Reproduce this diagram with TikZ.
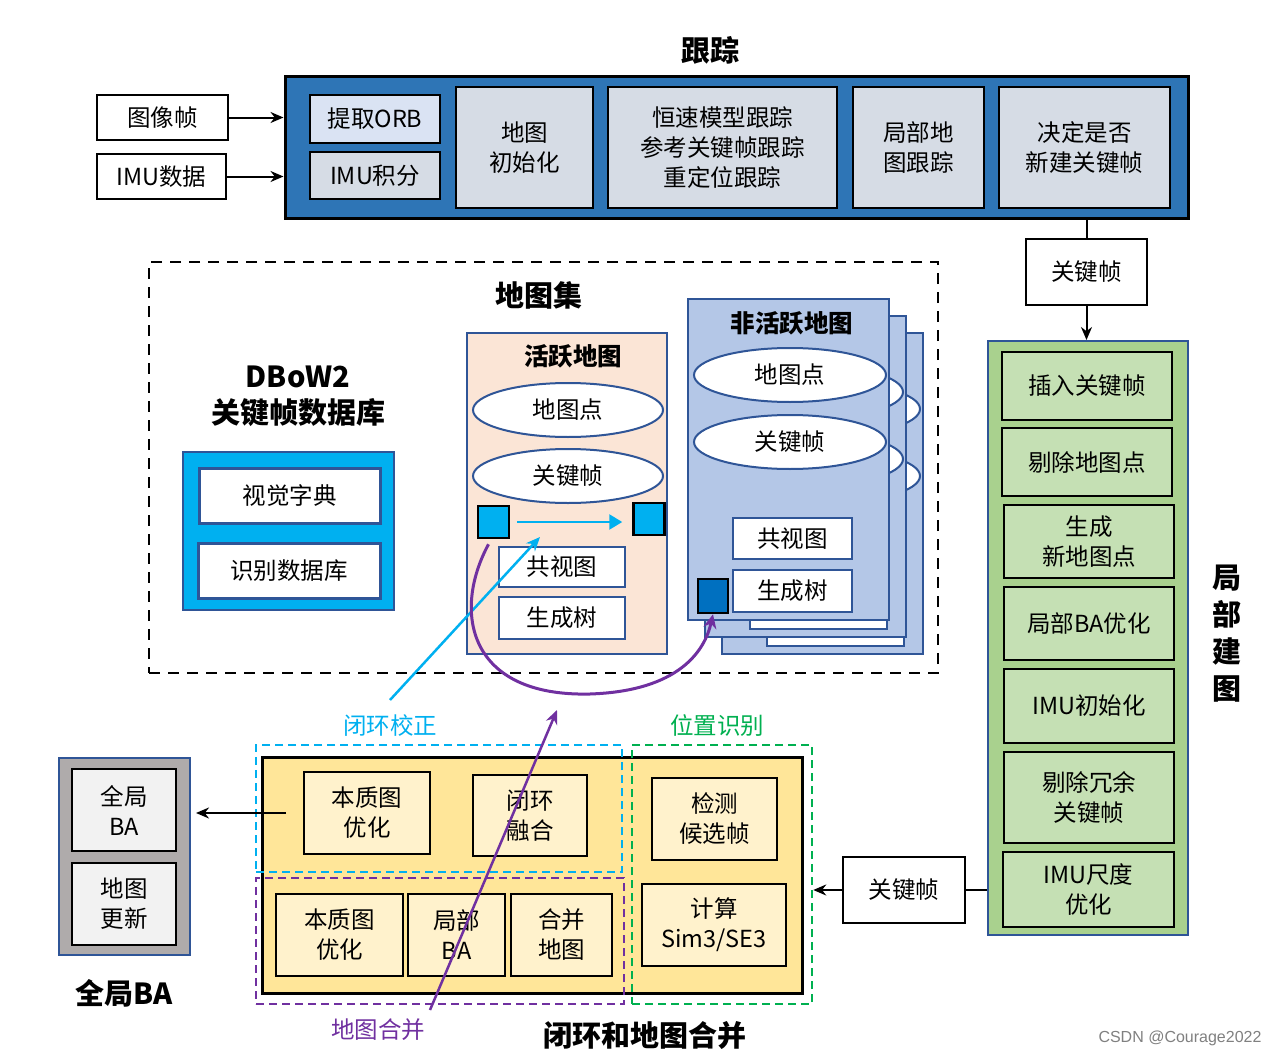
\documentclass[tikz,border=0pt]{standalone}
\usepackage{fontspec}
\setmainfont{Noto Sans CJK SC}
\newfontfamily\wmfont{Liberation Sans}
\usetikzlibrary{arrows.meta,calc,shapes.geometric}
\definecolor{trackblue}{HTML}{2E75B6}
\definecolor{graybox}{HTML}{D6DCE5}
\definecolor{lightbox}{HTML}{DAE3F3}
\definecolor{greenout}{HTML}{A9D18E}
\definecolor{greenin}{HTML}{C5E0B4}
\definecolor{peach}{HTML}{FBE5D6}
\definecolor{inact}{HTML}{B4C7E7}
\definecolor{dkborder}{HTML}{2F5597}
\definecolor{cyanc}{HTML}{00B0F0}
\definecolor{sqdark}{HTML}{0070C0}
\definecolor{yel}{HTML}{FFE699}
\definecolor{yellt}{HTML}{FFF2CC}
\definecolor{grayout}{HTML}{AFABAB}
\definecolor{grayin}{HTML}{F2F2F2}
\definecolor{purp}{HTML}{7030A0}
\definecolor{greenc}{HTML}{00B050}
\tikzset{
  base/.style={inner sep=0pt, align=center, font=\fontsize{23.5}{30}\selectfont},
  blk/.style={base, draw=black, line width=2.5pt},
  bluebrd/.style={base, draw=dkborder, line width=2pt},
  title/.style={inner sep=0pt, align=center, font=\bfseries\fontsize{29}{36}\selectfont},
  subtitle/.style={inner sep=0pt, align=center, font=\bfseries\fontsize{24.5}{30}\selectfont},
  ell/.style={base, ellipse, draw=dkborder, line width=2pt, fill=white},
  sq/.style={draw=black, line width=2.5pt, inner sep=0pt, minimum width=31, minimum height=32},
  arr/.style={line width=2pt, -{Stealth[length=13pt,width=11pt]}},
  dsh/.style={line width=2.5pt, dash pattern=on 8pt off 5pt},
}
\begin{document}
\begin{tikzpicture}[x=1pt,y=-1pt]
\useasboundingbox (0,0) rectangle (1278,1057);
\fill[white] (0,0) rectangle (1278,1057);

% ---------------- Tracking ----------------
\node[title] (ttrack) at (710,50) {跟踪};
\node[draw=black, line width=3pt, fill=trackblue, inner sep=0pt, minimum width=903, minimum height=141] (track) at (736.5,147.5) {};
\node[blk, fill=white, minimum width=131, minimum height=45] (img) at (162.5,117.5) {图像帧};
\node[blk, fill=white, minimum width=129, minimum height=45] (imu) at (161.5,176.5) {IMU数据};
\node[blk, fill=lightbox, minimum width=130, minimum height=48] (orb) at (375,119) {提取ORB};
\node[blk, fill=graybox, minimum width=130, minimum height=47] (imuint) at (375,175.5) {IMU积分};
\node[blk, fill=graybox, minimum width=137, minimum height=121] (mapinit) at (524.5,147.5) {地图\\初始化};
\node[blk, fill=graybox, minimum width=229, minimum height=121] (cvm) at (722.5,147.5) {恒速模型跟踪\\参考关键帧跟踪\\重定位跟踪};
\node[blk, fill=graybox, minimum width=131, minimum height=121] (lmt) at (918.5,147.5) {局部地\\图跟踪};
\node[blk, fill=graybox, minimum width=171, minimum height=121] (newkf) at (1084.5,147.5) {决定是否\\新建关键帧};
\draw[arr] (img.east) -- (img.east -| track.west);
\draw[arr] (imu.east) -- (imu.east -| track.west);

% ---------------- keyframe to local mapping ----------------
\node[blk, fill=white, minimum width=121, minimum height=66] (kf1) at (1086.5,272) {关键帧};
\node[draw=dkborder, line width=2pt, fill=greenout, inner sep=0pt, minimum width=200, minimum height=594] (lm) at (1088,638) {};
\draw[line width=2pt] (kf1.north |- track.south) -- (kf1.north);
\draw[arr] (kf1.south) -- (kf1.south |- lm.north);
\node[blk, fill=greenin, minimum width=170, minimum height=68] (lm1) at (1087,386) {插入关键帧};
\node[blk, fill=greenin, minimum width=170, minimum height=68] (lm2) at (1087,462) {剔除地图点};
\node[blk, fill=greenin, minimum width=170, minimum height=73] (lm3) at (1089,541.5) {生成\\新地图点};
\node[blk, fill=greenin, minimum width=170, minimum height=73] (lm4) at (1089,623.5) {局部BA优化};
\node[blk, fill=greenin, minimum width=170, minimum height=74] (lm5) at (1089,706) {IMU初始化};
\node[blk, fill=greenin, minimum width=170, minimum height=91] (lm6) at (1089,797.5) {剔除冗余\\关键帧};
\node[blk, fill=greenin, minimum width=171, minimum height=75] (lm7) at (1088.5,889.5) {IMU尺度\\优化};
\node[inner sep=0pt, align=center, font=\bfseries\fontsize{29}{37}\selectfont] (tlm) at (1227,634) {局\\部\\建\\图};

% ---------------- Atlas ----------------
\node[draw=black, line width=2.5pt, dash pattern=on 11pt off 8pt, inner sep=0pt, minimum width=789, minimum height=411] (atlas) at (543.5,467.5) {};
\node[title] (tatlas) at (539,295) {地图集};
\node[title] (tdbow) at (298,396) {DBoW2\\关键帧数据库};
\node[draw=dkborder, line width=2.5pt, fill=cyanc, inner sep=0pt, minimum width=211, minimum height=158] (dbow) at (288.5,531) {};
\node[base, draw=dkborder, line width=3pt, fill=white, minimum width=181, minimum height=55] (voc) at (289.5,495.5) {视觉字典};
\node[base, draw=dkborder, line width=3pt, fill=white, minimum width=182, minimum height=55] (recdb) at (289,570.5) {识别数据库};

% active map
\node[draw=dkborder, line width=2pt, fill=peach, inner sep=0pt, minimum width=200, minimum height=321] (active) at (567,493.5) {};
\node[subtitle] (tactive) at (573,356) {活跃地图};
\node[ell, minimum width=190, minimum height=54] (amp) at (568,410) {地图点};
\node[ell, minimum width=190, minimum height=54] (akf) at (568,476) {关键帧};
\node[sq, fill=cyanc] (sq1) at (493.5,522) {};
\node[sq, fill=cyanc] (sq2) at (649,519) {};
\node[bluebrd, line width=2.5pt, fill=white, minimum width=126, minimum height=40] (acov) at (562,567) {共视图};
\node[bluebrd, line width=2.5pt, fill=white, minimum width=126, minimum height=42] (atree) at (562,618) {生成树};
\draw[line width=2.5pt, cyanc, -{Triangle[length=13pt,width=15pt]}, shorten <=7pt, shorten >=10pt] (sq1.east) -- (sq1.east -| sq2.west);

% inactive maps (stacked copies)
\foreach \o in {34,17} {
  \draw[draw=dkborder, line width=2pt, fill=inact] ({688+\o},{299+\o}) rectangle ({889+\o},{620+\o});
  \draw[draw=dkborder, line width=2pt, fill=white] ({790+\o},{375+\o}) ellipse [x radius=96, y radius=27];
  \draw[draw=dkborder, line width=2pt, fill=white] ({790+\o},{442+\o}) ellipse [x radius=96, y radius=27];
  \draw[draw=dkborder, line width=2.5pt, fill=white] ({733+\o},{570+\o}) rectangle ({870+\o},{612+\o});
}
\node[draw=dkborder, line width=2pt, fill=inact, inner sep=0pt, minimum width=201, minimum height=321] (inactive) at (788.5,459.5) {};
\node[subtitle] (tinactive) at (792,323) {非活跃地图};
\node[ell, minimum width=192, minimum height=54] (imp) at (790,375) {地图点};
\node[ell, minimum width=192, minimum height=54] (ikf) at (790,442) {关键帧};
\node[bluebrd, line width=2.5pt, fill=white, minimum width=119, minimum height=41] (icov) at (792.5,538.5) {共视图};
\node[bluebrd, line width=2.5pt, fill=white, minimum width=119, minimum height=42] (itree) at (792.5,591) {生成树};
\node[sq, fill=sqdark, minimum width=30, minimum height=34] (sq3) at (713,596) {};

% ---------------- Loop closing & map merging ----------------
\node[draw=black, line width=3pt, fill=yel, inner sep=0pt, minimum width=540, minimum height=236] (yellow) at (532,875) {};
\node[draw=cyanc, dsh, inner sep=0pt, minimum width=366, minimum height=127] (lcbox) at (439,808.5) {};
\node[draw=purp, dsh, inner sep=0pt, minimum width=368, minimum height=126] (mmbox) at (440,941) {};
\node[draw=greenc, dsh, inner sep=0pt, minimum width=180, minimum height=259] (prbox) at (722,874.5) {};
\node[base, text=cyanc] (tlc) at (390,726) {闭环校正};
\node[base, text=greenc] (tpr) at (717,726) {位置识别};
\node[base, text=purp] (tmm) at (378,1030) {地图合并};
\node[title] (tlcmm) at (645,1035) {闭环和地图合并};
\node[blk, fill=yellt, minimum width=126, minimum height=82] (eg1) at (367,813) {本质图\\优化};
\node[blk, fill=yellt, minimum width=114, minimum height=81] (fuse) at (530,815.5) {闭环\\融合};
\node[blk, fill=yellt, minimum width=127, minimum height=82] (eg2) at (339.5,935) {本质图\\优化};
\node[blk, fill=yellt, minimum width=97, minimum height=82] (lba) at (456.5,935) {局部\\BA};
\node[blk, fill=yellt, minimum width=101, minimum height=82] (merge) at (561.5,935) {合并\\地图};
\node[blk, fill=yellt, minimum width=125, minimum height=82] (detect) at (714.5,819) {检测\\候选帧};
\node[blk, fill=yellt, minimum width=144, minimum height=82] (sim3) at (714,925) {计算\\Sim3/SE3};

% keyframe from local mapping to place recognition
\node[blk, fill=white, minimum width=122, minimum height=66] (kf2) at (904,890) {关键帧};
\draw[line width=2pt] (kf2.east -| lm.west) -- (kf2.east);
\draw[arr] (kf2.west) -- (kf2.west -| prbox.east);

% global BA
\node[draw=dkborder, line width=2pt, fill=grayout, inner sep=0pt, minimum width=131, minimum height=197] (gba) at (124.5,856.5) {};
\node[blk, fill=grayin, minimum width=104, minimum height=82] (gba1) at (124,810) {全局\\BA};
\node[blk, fill=grayin, minimum width=104, minimum height=82] (gba2) at (124,904) {地图\\更新};
\node[title] (tgba) at (124,993) {全局BA};
\coordinate (gbS) at (286,813);
\draw[arr] (gbS) -- (gbS -| gba.east) [shorten >=5pt];

% ---------------- cross arrows ----------------
\coordinate (cyS) at (390,700);
\coordinate (cyE) at (540,537);
\draw[line width=2.5pt, cyanc, -{Stealth[length=14pt,width=12pt]}] (cyS) -- (cyE);
\coordinate (puS) at (430,1010);
\coordinate (puE) at (557,710);
\draw[line width=2.5pt, purp, -{Stealth[length=14pt,width=12pt]}] (puS) -- (puE);
\draw[line width=3pt, purp, -{Stealth[length=14pt,width=13pt]}] ($(sq1.south)+(-5,5)$) .. controls (452,612) and (468,697) .. (590,694) .. controls (680,691) and (705,650) .. (sq3.south);

% watermark
\node[inner sep=0pt, text=gray, font=\wmfont\fontsize{16}{18}\selectfont] (wm) at (1180,1038) {CSDN @Courage2022};
\end{tikzpicture}
\end{document}
